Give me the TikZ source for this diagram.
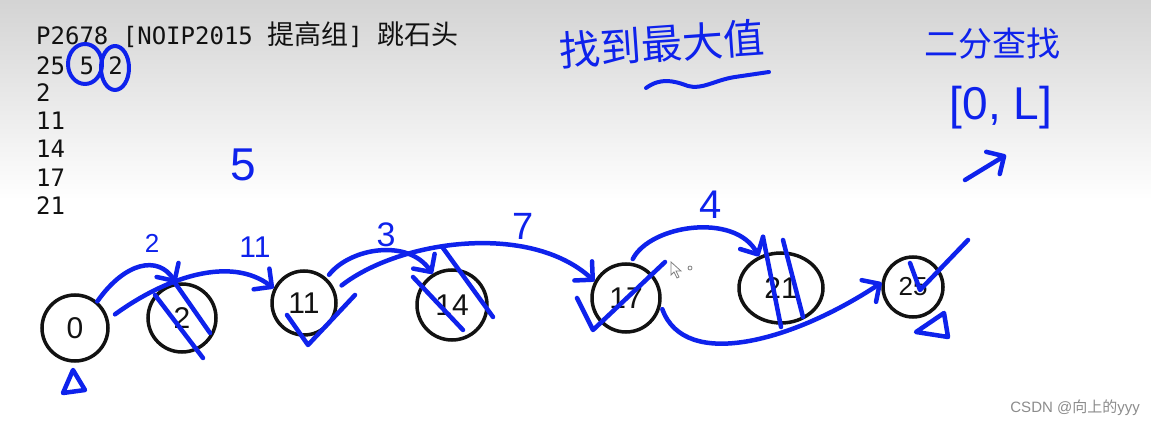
\documentclass[tikz,border=0pt]{standalone}
\usepackage{fontspec}
\setmainfont{Liberation Sans}
\newfontfamily\cjk{Noto Sans CJK SC}
\newfontfamily\mono{DejaVu Sans Mono}
\usetikzlibrary{arrows.meta,shapes.geometric}
\definecolor{pen}{RGB}{14,34,236}
\definecolor{ink}{RGB}{18,18,18}
\tikzset{
  stone/.style={circle, draw=ink, line width=3.5pt, inner sep=0pt, text=ink, font=\fontsize{30}{30}\selectfont},
  hand/.style={draw=pen, line width=4.5pt, line cap=round, line join=round},
  harrow/.style={hand, -{Straight Barb[length=13pt,width=26pt,round]}},
  lbl/.style={text=pen, inner sep=0pt},
  rowtxt/.style={anchor=base west, inner sep=0pt, text=ink, font=\mono\fontsize{24}{24}\selectfont},
}
\begin{document}
\begin{tikzpicture}[x=1pt,y=-1pt]
\useasboundingbox (0,0) rectangle (1151,427);
\fill[white] (0,0) rectangle (1151,427);
\shade[top color=black!17, bottom color=white] (0,0) rectangle (1151,200);

% problem text
\node[rowtxt] (t0) at (36,45) {P2678 [NOIP2015 {\cjk\fontsize{27}{27}\selectfont 提高组}] {\cjk\fontsize{27}{27}\selectfont 跳石头}};
\node[rowtxt] (t1) at (36,75) {25 5 2};
\node[rowtxt] (t2) at (36,102) {2};
\node[rowtxt] (t3) at (36,130) {11};
\node[rowtxt] (t4) at (36,158) {14};
\node[rowtxt] (t5) at (36,187) {17};
\node[rowtxt] (t6) at (36,215) {21};
\draw[hand, line width=4pt] (85,64) ellipse [x radius=17, y radius=20];
\draw[hand, line width=4pt] (115,68) ellipse [x radius=14, y radius=22];

% stones
\node[stone, minimum size=66pt] (n0) at (75,328) {0};
\node[stone, minimum size=68pt] (n2) at (182,318) {2};
\node[stone, minimum size=64pt] (n11) at (304,303) {11};
\node[stone, minimum size=70pt] (n14) at (452,305) {14};
\node[stone, minimum size=68pt] (n17) at (626,298) {17};
\node[stone, ellipse, minimum width=84pt, minimum height=70pt] (n21) at (781,288) {21};
\node[stone, minimum size=60pt, font=\fontsize{26}{26}\selectfont] (n25) at (913,287) {25};

% handwritten labels
\node[lbl, font=\fontsize{46}{46}\selectfont] (l5) at (243,165) {5};
\node[lbl, font=\fontsize{26}{26}\selectfont] (l2) at (152,243) {2};
\node[lbl, font=\fontsize{30}{30}\selectfont] (l11) at (255,247) {11};
\node[lbl, font=\fontsize{34}{34}\selectfont] (l3) at (386,235) {3};
\node[lbl, font=\fontsize{38}{38}\selectfont] (l7) at (523,226) {7};
\node[lbl, font=\fontsize{40}{40}\selectfont] (l4) at (711,205) {4};
\node[lbl, font=\cjk\fontsize{41}{41}\selectfont, rotate=4] (max) at (662,44) {找到最大值};
\node[lbl, font=\cjk\fontsize{34}{34}\selectfont] (bs) at (992,44) {二分查找};
\node[lbl, font=\fontsize{46}{46}\selectfont] (rng) at (1001,108) {[0, L]};
\draw[hand, line width=4pt] (646,88) .. controls (660,78) and (672,80) .. (688,86)
  .. controls (702,90) and (715,80) .. (735,77) -- (769,72);

% jumps
\draw[harrow] (n0.50) .. controls (125,262) and (158,255) .. (n2.100);
\draw[harrow, shorten <=8pt] (n0.15) .. controls (165,278) and (230,255) .. (n11.154);
\draw[harrow, shorten <=4pt] (n11.48) .. controls (350,248) and (408,238) .. (n14.122);
\draw[harrow, shorten <=8pt] (n11.22) .. controls (400,240) and (530,222) .. (n17.152);
\draw[harrow, shorten <=4pt] (n17.82) .. controls (650,225) and (735,212) .. (n21.125);
\draw[harrow, shorten <=4pt] (n17.-12) .. controls (685,372) and (795,340) .. (n25.172);
\coordinate (up0) at (965,180);
\coordinate (up1) at (1006,155);
\draw[harrow] (up0) -- (up1);

% marks
\draw[hand] (155,295) -- (203,358);
\draw[hand] (173,280) -- (210,333);
\draw[hand] (287,315) -- (308,345) -- (355,295);
\draw[hand] (413,277) -- (463,330);
\draw[hand] (443,248) -- (493,317);
\draw[hand] (577,298) -- (593,330) -- (665,262);
\draw[hand] (763,237) -- (781,327);
\draw[hand] (783,240) -- (803,317);
\draw[hand] (910,263) -- (920,290) -- (968,240);
\draw[hand] (73,370) -- (63,393) -- (85,390) -- cycle;
\draw[hand] (944,313) -- (916,332) -- (948,337) -- cycle;

% cursor
\draw[gray, line width=0.8pt, fill=white] (671,262) -- (671,275) -- (674,272) -- (677,278) -- (679,277) -- (676,271) -- (681,271) -- cycle;
\draw[gray, line width=0.8pt] (690,268) circle [radius=2];

% watermark
\node[anchor=base east, inner sep=0pt, text=black!45, font=\fontsize{15}{15}\selectfont] (wm) at (1140,413) {CSDN @{\cjk 向上的}yyy};
\end{tikzpicture}
\end{document}
